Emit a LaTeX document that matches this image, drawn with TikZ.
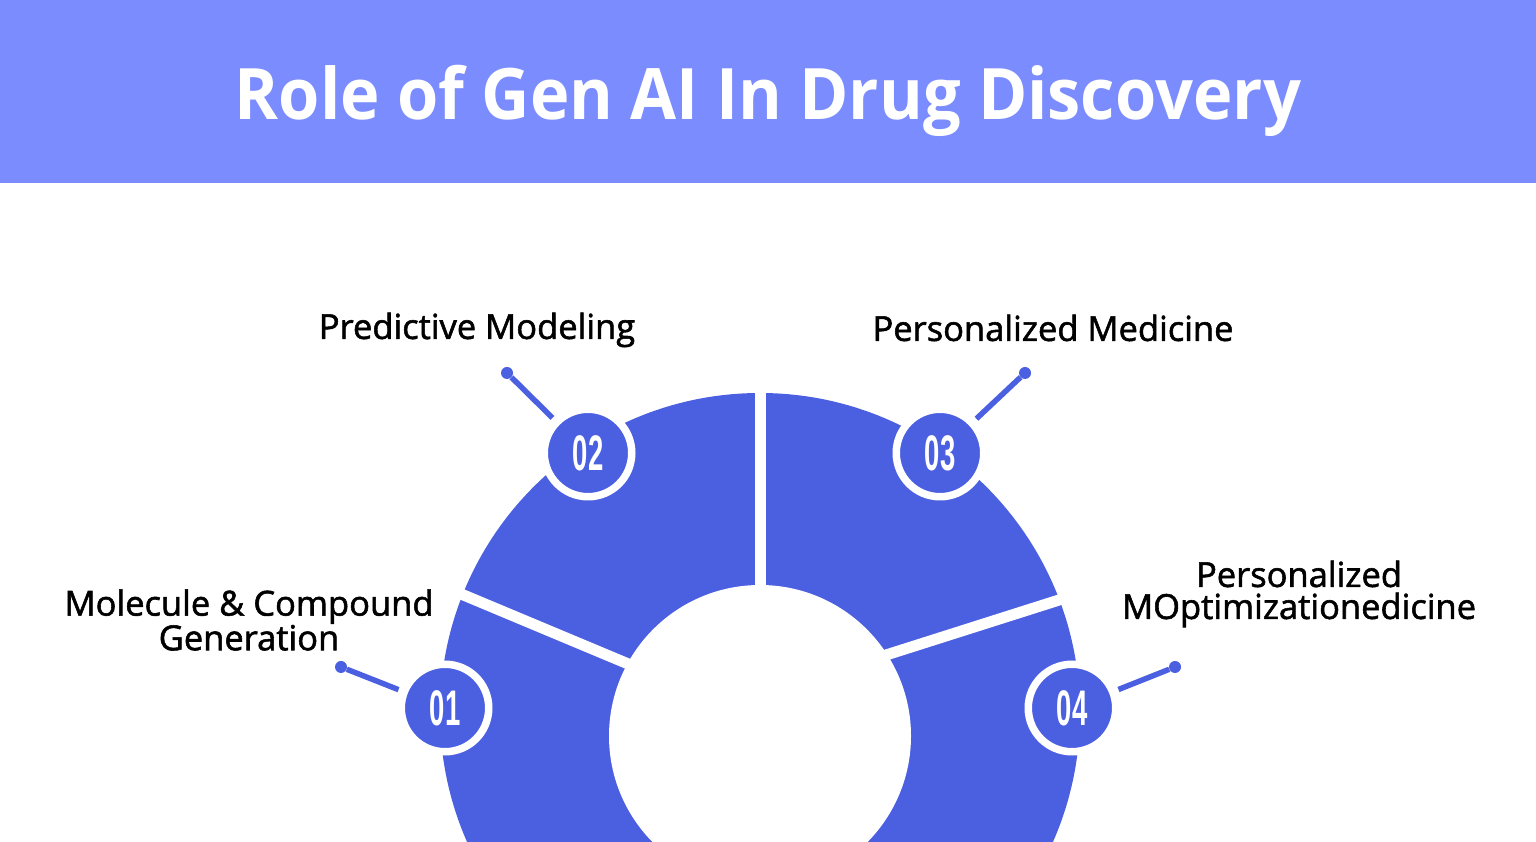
\documentclass[tikz,border=0pt]{standalone}
\usepackage{fontspec}
\setmainfont{Open Sans}
\newfontfamily\numfont[FakeStretch=0.55]{Liberation Sans Bold}
\newfontfamily\titlefont[FakeStretch=0.94]{Open Sans Bold}
\newfontfamily\lblfont[FakeBold=1.6]{Open Sans}
\usetikzlibrary{positioning}
\definecolor{barblue}{RGB}{123,140,255}
\definecolor{ringblue}{RGB}{75,95,225}
\newcommand{\lblsize}{\lblfont\fontsize{34.5}{32}\selectfont}
\begin{document}
\begin{tikzpicture}[x=1pt, y=1pt,
  badge/.style={circle, fill=ringblue, draw=white, line width=7.5pt,
                minimum size=87.5pt, inner sep=0pt, text=white,
                font=\numfont\fontsize{50}{50}\selectfont},
  dotend/.style={circle, fill=ringblue, minimum size=12pt, inner sep=0pt},
  spoke/.style={ringblue, line width=5.5pt, shorten <=2.5pt},
  sep/.style={white, line width=11pt},
  lbl/.style={font=\lblsize, align=center, inner sep=0pt}]
\useasboundingbox (0,0) rectangle (1536,842);
\clip (0,0) rectangle (1536,842);

% --- title bar ---
\fill[barblue] (0,659) rectangle (1536,842);
\node[text=white, font=\titlefont\fontsize{71}{80}\selectfont] (title) at (768,741)
  {Role of Gen AI In Drug Discovery};

% --- ring ---
\fill[ringblue] (760,129) circle (320);
\fill[white] (760,106) circle (151);
\draw[sep] (760,106) -- (760,470);
\draw[sep] (700,148) -- (430,261);
\draw[sep] (820,166) -- (1100,255);

% --- numbered badges ---
\node[badge] (b1) at (445,134) {01};
\node[badge] (b2) at (588,389) {02};
\node[badge] (b3) at (940,389) {03};
\node[badge] (b4) at (1072,134) {04};

% --- spokes ---
\node[dotend] (d1) at (341,175) {};
\node[dotend] (d2) at (507,469) {};
\node[dotend] (d3) at (1025,469) {};
\node[dotend] (d4) at (1175,175) {};
\foreach \i in {1,...,4}{ \draw[spoke] (b\i) -- (d\i); }

% --- labels ---
\node[lbl] (l1) at (249,222) {Molecule \& Compound\\Generation};
\node[lbl] (l2) at (477,512) {Predictive Modeling};
\node[lbl] (l3) at (1053,514) {Personalized Medicine};
\node[lbl] (l4) at (1299,248) {Personalized\\MOptimizationedicine};
\end{tikzpicture}
\end{document}
